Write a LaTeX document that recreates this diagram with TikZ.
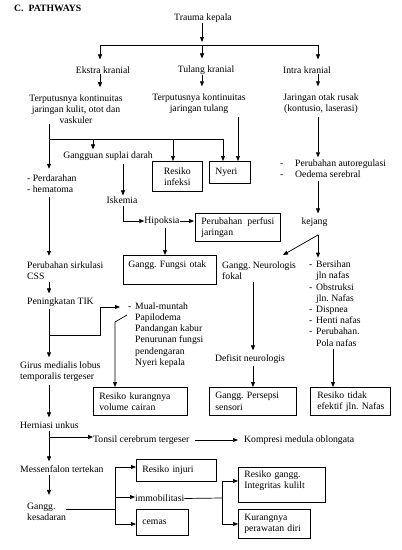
\documentclass[tikz,border=0pt]{standalone}
\usepackage{fontspec}
\setmainfont{Liberation Serif}
\usetikzlibrary{arrows.meta}
\frenchspacing
\begin{document}
\begin{tikzpicture}[x=1pt,y=-1pt,
  every node/.style={inner sep=0pt, font=\fontsize{9.7}{11.2}\selectfont\frenchspacing},
  txt/.style={align=left},
  ctr/.style={align=center},
  bx/.style={draw, line width=0.7pt, anchor=north west, inner xsep=6pt, inner ysep=0pt, align=left},
  ln/.style={line width=0.7pt},
  arr/.style={line width=0.7pt, -{Triangle[length=5pt,width=4pt]}},
]
\useasboundingbox (0,0) rectangle (402,550);
% ---------- nodes ----------
\node[anchor=west, font=\fontsize{9.7}{11.2}\selectfont\bfseries] (title) at (14,8) {C.\hspace{5pt}PATHWAYS};
\node (trauma) at (203,18) {Trauma kepala};
\node (ekstra) at (103,70) {Ekstra kranial};
\node (tulang) at (206,70) {Tulang kranial};
\node (intra) at (307,70) {Intra kranial};
\node[ctr] (kulit) at (76,109) {Terputusnya kontinuitas\\jaringan kulit, otot dan\\vaskuler};
\node[ctr] (tul) at (199,103.5) {Terputusnya kontinuitas\\jaringan tulang};
\node[ctr] (otak) at (321,103.5) {Jaringan otak rusak\\(kontusio, laserasi)};
\node (suplai) at (108,156) {Gangguan suplai darah};
\node[bx, text width=38pt, align=center, minimum height=30pt] (infeksi) at (152,161) {Resiko\\infeksi};
\node[bx, text width=29pt, minimum height=22pt] (nyeri) at (209,161) {Nyeri};
\node[txt, anchor=west] (autoreg) at (280,168.5) {\makebox[15pt][l]{-}Perubahan autoregulasi\\\makebox[15pt][l]{-}Oedema serebral};
\node[txt, anchor=west] (perdarahan) at (27,184) {- Perdarahan\\- hematoma};
\node (iskemia) at (122,200) {Iskemia};
\node (hipoksia) at (162,221) {Hipoksia};
\node[bx, text width=73pt, minimum height=28pt] (perfusi) at (195,213) {Perubahan\hfill perfusi\\jaringan};
\node (kejang) at (314.5,222) {kejang};
\node[txt, anchor=west] (sirkulasi) at (27,271) {Perubahan sirkulasi\\CSS};
\node[bx, text width=83pt, inner xsep=5pt, minimum height=29pt] (fungsi) at (123,255) {Gangg. Fungsi otak\\\mbox{}};
\node[txt, anchor=west] (neuro) at (222,271) {Gangg. Neurologis\\fokal};
\node[txt, anchor=west] (bersihan) at (309,303.5) {\makebox[7pt][l]{-}Bersihan\\\hspace*{7pt}jln nafas\\\makebox[7pt][l]{-}Obstruksi\\\hspace*{7pt}jln. Nafas\\\makebox[7pt][l]{-}Dispnea\\\makebox[7pt][l]{-}Henti nafas\\\makebox[7pt][l]{-}Perubahan.\\\hspace*{7pt}Pola nafas};
\node[anchor=west] (tik) at (27,302) {Peningkatan TIK};
\node[txt, anchor=west] (mual) at (128,335) {\makebox[7pt][l]{-}Mual-muntah\\\hspace*{7pt}Papilodema\\\hspace*{7pt}Pandangan kabur\\\hspace*{7pt}Penurunan fungsi\\\hspace*{7pt}pendengaran\\\hspace*{7pt}Nyeri kepala};
\node[txt, anchor=west] (girus) at (20,371.5) {Girus medialis lobus\\temporalis tergeser};
\node (defisit) at (250,359) {Defisit neurologis};
\node[bx, text width=82pt, minimum height=28pt] (cairan) at (93,387) {Resiko kurangnya\\volume cairan};
\node[bx, text width=75pt, minimum height=28pt] (persepsi) at (209,387) {Gangg. Persepsi\\sensori};
\node[bx, text width=72pt, inner xsep=4pt, minimum height=28pt] (jln) at (310,387) {\hspace*{3pt}Resiko tidak\\\hspace*{3pt}efektif jln. Nafas};
\node[anchor=west] (hern) at (20,425) {Herniasi unkus};
\node[anchor=west] (tonsil) at (93,440) {Tonsil cerebrum tergeser};
\node[anchor=west] (kompresi) at (244,440) {Kompresi medula oblongata};
\node[anchor=west] (mess) at (20,469) {Messenfalon tertekan};
\node[txt, anchor=west] (sadar) at (27,512) {Gangg.\\kesadaran};
\node[anchor=west] (immob) at (135,498.5) {immobilitasi};
\node[bx, text width=68pt, minimum height=22pt] (injuri) at (136,459) {Resiko injuri};
\node[bx, text width=40pt, minimum height=26pt] (cemas) at (136,509) {cemas};
\node[bx, text width=75pt, minimum height=35pt] (integ) at (238,467) {Resiko gangg.\\Integritas kulilt\\\mbox{}};
\node[bx, text width=60pt, minimum height=29pt] (rawat) at (238,509) {Kurangnya\\perawatan diri};
% ---------- junction coordinates ----------
\coordinate (xT) at (202,0);
\coordinate (bl) at (100,45); \coordinate (bm) at (202,45); \coordinate (br) at (318,45);
\coordinate (jA) at (49,139); \coordinate (jB) at (93,139); \coordinate (jC) at (173,139); \coordinate (jD) at (223,139);
\coordinate (xTul) at (238,0);
\coordinate (xIsk) at (123,0);
\coordinate (xHip) at (165,0);
\coordinate (kj) at (318,235);
\coordinate (kd) at (283,255);
\coordinate (jT1) at (49,335); \coordinate (jT2) at (100,335); \coordinate (jT3) at (100,307);
\coordinate (s1) at (127,315); \coordinate (s2) at (115,322);
\coordinate (xNeu) at (253,0);
\coordinate (xNaf) at (333,0);
\coordinate (jH) at (49,437);
\coordinate (jK) at (115,509); \coordinate (jKt) at (115,467); \coordinate (jKm) at (115,497); \coordinate (jKb) at (115,524);
\coordinate (jI) at (222,498); \coordinate (jIt) at (222,481); \coordinate (jIb) at (222,524);
% ---------- connectors ----------
\draw[arr, shorten >=3pt] (trauma.south -| xT) -- (bm);
\draw[ln] (bl) -- (br);
\draw[arr, shorten >=7pt] (bl) -- (bl |- ekstra.north);
\draw[arr, shorten >=7pt] (bm) -- (bm |- tulang.north);
\draw[arr, shorten >=7pt] (br) -- (br |- intra.north);
\draw[arr, shorten >=7pt] (ekstra.south -| bl) -- (bl |- kulit.north);
\draw[arr, shorten >=7pt] (tulang.south -| bm) -- (bm |- tul.north);
\draw[arr, shorten >=7pt] (intra.south -| br) -- (br |- otak.north);
\draw[ln] (kulit.south -| jA) -- (jA) -- (jD);
\draw[arr, shorten >=6pt] (jA) -- (jA |- perdarahan.north);
\draw[arr, shorten >=2pt] (jB) -- (jB |- suplai.north);
\draw[arr] (jC) -- (jC |- infeksi.north);
\draw[arr] (jD) -- (jD |- nyeri.north);
\draw[arr, shorten <=3pt] (tul.south -| xTul) -- (xTul |- nyeri.north);
\draw[arr, shorten <=3pt, shorten >=2pt] (otak.south -| br) -- (br |- autoreg.north);
\draw[arr, shorten <=3pt, shorten >=4pt] (autoreg.south -| br) -- (br |- kejang.north);
\draw[arr] (kj) -- (kd);
\draw[arr, shorten >=3pt] (kj) -- (kj |- bersihan.north);
\draw[arr, shorten <=4pt, shorten >=6pt] (perdarahan.south -| jA) -- (jA |- sirkulasi.north);
\draw[arr, shorten <=3pt, shorten >=1pt] (suplai.south -| xIsk) -- (xIsk |- iskemia.north);
\draw[arr, shorten <=2pt] (iskemia.south -| xIsk) |- (hipoksia.west);
\draw[arr, shorten >=1pt] (hipoksia.east) -- (hipoksia.east -| perfusi.west);
\draw[arr, shorten <=2pt] (hipoksia.south -| xHip) -- (xHip |- fungsi.north);
\draw[arr, shorten <=2pt, shorten >=4pt] (sirkulasi.south -| jA) -- (jA |- tik.north);
\draw[arr, shorten <=2pt, shorten >=4pt] (tik.south -| jA) -- (jA |- girus.north);
\draw[arr, shorten >=8pt] (jT1) -- (jT2) -- (jT3) -- (jT3 -| mual.west);
\draw[arr] (s1) -- (s2) -- (s2 |- cairan.north);
\draw[arr, shorten <=2pt, shorten >=4pt] (neuro.south -| xNeu) -- (xNeu |- defisit.north);
\draw[arr, shorten <=2pt] (defisit.south -| xNeu) -- (xNeu |- persepsi.north);
\draw[arr, shorten <=3pt] (bersihan.south -| xNaf) -- (xNaf |- jln.north);
\draw[arr, shorten <=3pt, shorten >=4pt] (girus.south -| jA) -- (jA |- hern.north);
\draw[arr, shorten <=2pt, shorten >=4pt] (hern.south -| jA) -- (jA |- mess.north);
\draw[arr] (jH) -- (jH -| tonsil.west);
\draw[arr, shorten <=5pt, shorten >=6pt] (tonsil.east) -- (kompresi.west);
\draw[arr, shorten <=2pt, shorten >=8pt] (mess.south -| jA) -- (jA |- sadar.north);
\draw[ln] (sadar.east |- jK) -- (jK);
\draw[ln] (jKt) -- (jKb);
\draw[arr] (jKt) -- (jKt -| injuri.west);
\draw[arr] (jKm) -- (jKm -| immob.west);
\draw[arr] (jKb) -- (jKb -| cemas.west);
\draw[ln] (immob.east) -- (jI);
\draw[ln] (jIt) -- (jIb);
\draw[arr] (jIt) -- (jIt -| integ.west);
\draw[arr] (jIb) -- (jIb -| rawat.west);
\end{tikzpicture}
\end{document}
